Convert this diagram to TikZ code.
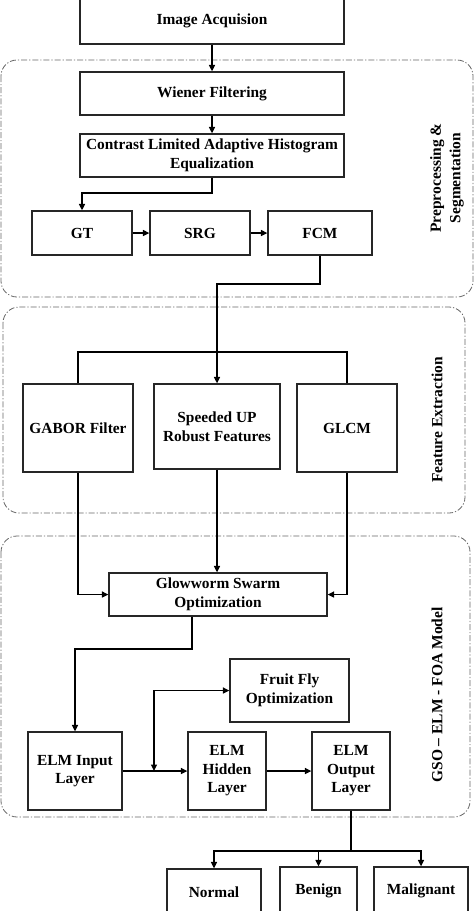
\documentclass[tikz,border=0pt]{standalone}
\usepackage{fontspec}
\setmainfont{Liberation Serif}
\usetikzlibrary{arrows.meta}
\begin{document}
\begin{tikzpicture}[x=1pt,y=-1pt,
  box/.style={draw=black!85,line width=1.3pt,rectangle,align=center,inner sep=1pt,
    font=\fontsize{15.4}{18.5}\selectfont\bfseries},
  arr/.style={line width=1.4pt,-{Triangle[length=6.5pt,width=6pt]}},
  ln/.style={line width=1.4pt},
  grp/.style={draw=black!60,line width=0.8pt,rounded corners=16pt,
    dash pattern=on 6pt off 2pt on 1.2pt off 2pt},
  lbl/.style={rotate=90,align=center,font=\fontsize{15.5}{19.5}\selectfont\bfseries}]
\useasboundingbox (0,0) rectangle (474,911);
\fill[white] (0,0) rectangle (474,911);
% groups
\draw[grp] (1,60) rectangle (473,297);
\draw[grp] (3,307) rectangle (465,513);
\draw[grp] (1,536) rectangle (470,817);
\node[lbl] (l1) at (447,178) {Preprocessing \&\\Segmentation};
\node[lbl] (l2) at (437,420) {Feature Extraction};
\node[lbl] (l3) at (437,695) {GSO -- ELM - FOA Model};
% nodes
\node[box,minimum width=264pt,minimum height=46pt] (ia) at (212,21) {Image Acquision};
\node[box,minimum width=264pt,minimum height=43pt] (wf) at (212,93.5) {Wiener Filtering};
\node[box,minimum width=264pt,minimum height=43pt] (cl) at (212,155.5) {Contrast Limited Adaptive Histogram\\Equalization};
\node[box,minimum width=100pt,minimum height=44pt] (gt) at (82,233) {GT};
\node[box,minimum width=100pt,minimum height=44pt] (srg) at (200,233) {SRG};
\node[box,minimum width=104pt,minimum height=44pt] (fcm) at (320,233) {FCM};
\node[box,minimum width=110pt,minimum height=88pt] (gab) at (78,428) {GABOR Filter};
\node[box,minimum width=126pt,minimum height=85pt] (surf) at (217,426.5) {Speeded UP\\Robust Features};
\node[box,minimum width=100pt,minimum height=88pt] (glcm) at (347,428) {GLCM};
\node[box,minimum width=218pt,minimum height=43pt] (gso) at (218,594.5) {Glowworm Swarm\\Optimization};
\node[box,minimum width=119pt,minimum height=63pt] (ffo) at (289.5,690.5) {Fruit Fly\\Optimization};
\node[box,minimum width=94pt,minimum height=78pt] (inp) at (75,771) {ELM Input\\Layer};
\node[box,minimum width=78pt,minimum height=78pt] (hid) at (227,771) {ELM\\Hidden\\Layer};
\node[box,minimum width=78pt,minimum height=78pt] (out) at (351,771) {ELM\\Output\\Layer};
\node[box,minimum width=94pt,minimum height=46pt] (nor) at (214,892) {Normal};
\node[box,minimum width=77pt,minimum height=48pt] (ben) at (318.5,891) {Benign};
\node[box,minimum width=94pt,minimum height=48pt] (mal) at (421,891) {Malignant};
% coordinates
\coordinate (j1) at (212,193);
\coordinate (j2) at (217,284);
\coordinate (hl) at (217,352);
\coordinate (g2) at (192,649);
\coordinate (jn) at (154,771);
\coordinate (b) at (351,851);
% connectors
\draw[arr] (ia) -- (wf);
\draw[arr] (wf) -- (cl);
\draw[arr] (cl.south) -- (j1) -| (gt.north);
\draw[arr] (gt) -- (srg);
\draw[arr] (srg) -- (fcm);
\draw[arr] (fcm.south) |- (j2) -- (surf.north);
\draw[ln] (gab.north) -- (gab.north |- hl) -- (glcm.north |- hl) -- (glcm.north);
\draw[arr] (gab.south) |- (gso.west);
\draw[arr] (glcm.south) |- (gso.east);
\draw[arr] (surf.south) -- (surf.south |- gso.north);
\draw[arr] (gso.south -| g2) -- (g2) -| (inp.north);
\draw[arr] (inp) -- (hid);
\draw[line width=1.4pt,{Triangle[length=6.5pt,width=6pt]}-{Triangle[length=6.5pt,width=6pt]}] (jn) |- (ffo.west);
\draw[arr] (hid) -- (out);
\draw[ln] (out.south) -- (b);
\draw[arr] (b) -| (nor.north);
\draw[arr] (b) -| (mal.north);
\draw[arr] (ben.north |- b) -- (ben.north);
\end{tikzpicture}
\end{document}
